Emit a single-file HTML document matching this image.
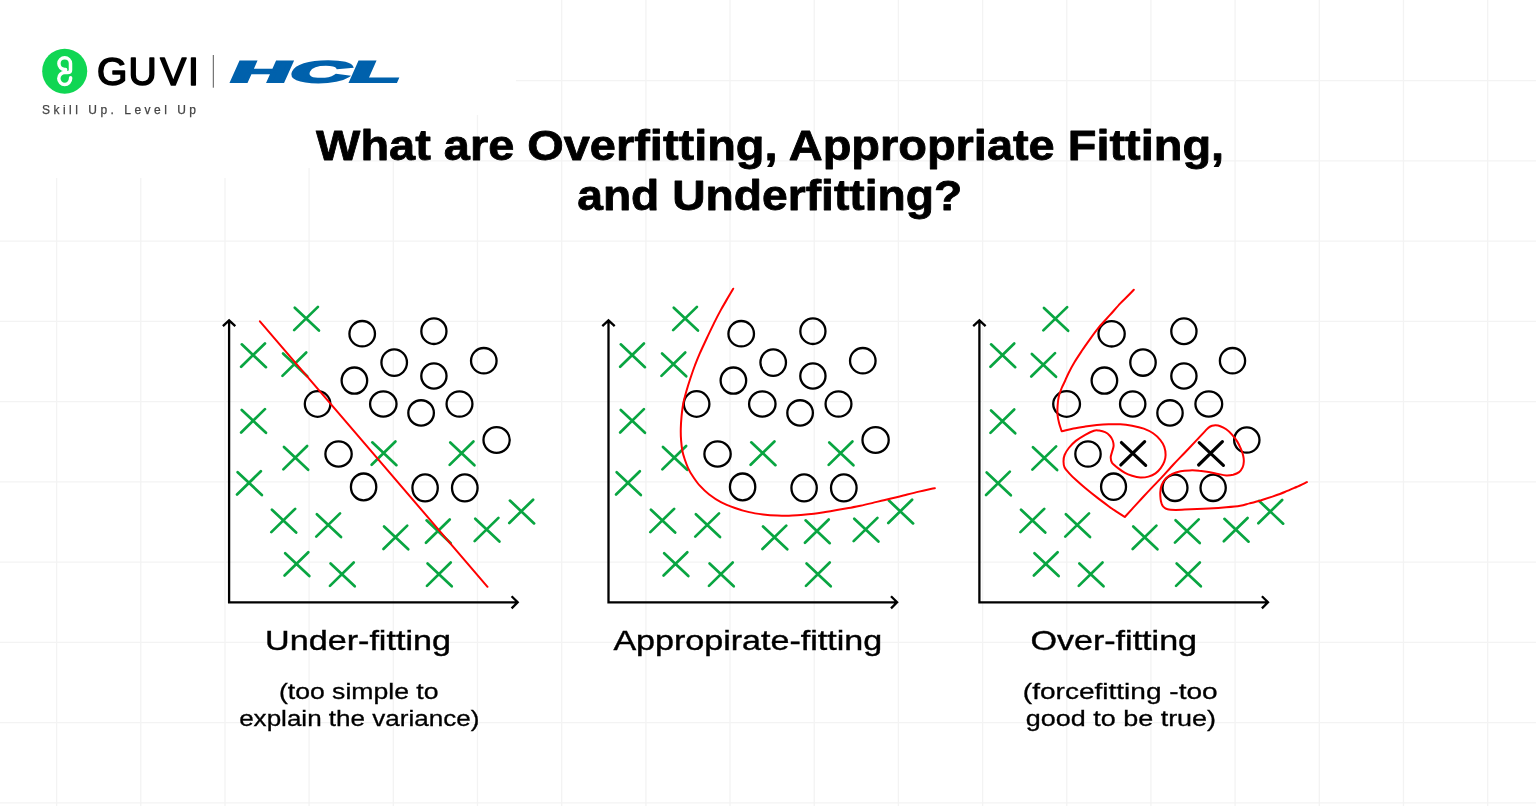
<!DOCTYPE html>
<html lang="en"><head><meta charset="utf-8"><title>What are Overfitting, Appropriate Fitting, and Underfitting?</title>
<style>
html,body{margin:0;padding:0;background:#fff;}
body{width:1536px;height:806px;overflow:hidden;font-family:"Liberation Sans","DejaVu Sans",sans-serif;}
svg{display:block}
.t{font-family:"Liberation Sans",sans-serif;font-weight:bold;font-size:43.3px;fill:#000;stroke:#000;stroke-width:0.8px;stroke-linejoin:round;text-anchor:middle}
.l{font-family:"Liberation Sans",sans-serif;font-size:27.8px;fill:#000;stroke:#000;stroke-width:0.4px;text-anchor:middle}
.s{font-family:"Liberation Sans",sans-serif;font-size:22px;fill:#000;stroke:#000;stroke-width:0.3px;text-anchor:middle}
ellipse{fill:none;stroke:#000;stroke-width:2.3}
.xg{fill:none;stroke:#09a541;stroke-width:2.7;stroke-linecap:round}
.xk{fill:none;stroke:#000;stroke-width:3.2;stroke-linecap:round}
</style></head><body>
<svg width="1536" height="806" viewBox="0 0 1536 806">
<rect width="1536" height="806" fill="#fff"/>
<path d="M56.6 0V806M140.8 0V806M225.0 0V806M309.1 0V806M393.3 0V806M477.5 0V806M561.7 0V806M645.9 0V806M730.0 0V806M814.2 0V806M898.4 0V806M982.6 0V806M1066.8 0V806M1150.9 0V806M1235.1 0V806M1319.3 0V806M1403.5 0V806M1487.7 0V806M0 80.6H1536M0 160.8H1536M0 241.1H1536M0 321.4H1536M0 401.6H1536M0 481.9H1536M0 562.1H1536M0 642.4H1536M0 722.6H1536M0 802.9H1536" stroke="#f3f3f3" stroke-width="1.3" fill="none"/>
<path d="M0 0H516V115H440V158H345V168H300V178H0Z" fill="#fff"/>

<!-- logo -->
<circle cx="64.7" cy="71.2" r="22.5" style="fill:#10d653;stroke:none"/>
<path d="M65.6 69.4L64.7 69.4A5.8 5.8 0 1 1 70.5 63.6L70.5 70Q70.5 72.6 67.5 72.6L64.7 72.6A5.9 5.9 0 1 0 70.6 78.5L70.6 77.8" fill="none" stroke="#fff" stroke-width="3.5" stroke-linecap="round" stroke-linejoin="round"/>
<text x="96.9 128.4 160.2 188.1" y="85.4" font-family="Liberation Sans, sans-serif" font-size="39" fill="#000" stroke="#000" stroke-width="1.6" stroke-linejoin="round">GUVI</text>
<path d="M213.3 55V87.7" stroke="#555" stroke-width="1"/>
<text transform="matrix(2.785 0 -0.447 1 227.5 81.9)" x="0" y="0" font-family="Liberation Sans, sans-serif" font-weight="bold" font-size="29.6" fill="#0061ac" stroke="#0061ac" stroke-width="2.2" stroke-linejoin="miter">HCL</text>
<text x="42" y="113.8" font-family="Liberation Sans, sans-serif" font-size="12" fill="#444" stroke="#444" stroke-width="0.25" textLength="154" lengthAdjust="spacing">Skill Up. Level Up</text>

<!-- title -->
<text class="t" x="770.1" y="160.3" textLength="908" lengthAdjust="spacingAndGlyphs">What are Overfitting, Appropriate Fitting,</text>
<text class="t" x="769.7" y="210.3" textLength="385" lengthAdjust="spacingAndGlyphs">and Underfitting?</text>

<!-- charts -->
<path transform="translate(0,0)" d="M229.1 320.6V602.3H517.5M222.9 326.2L229.1 320.3L235.3 326.2M511.6 596.2L517.7 602.3L511.6 608.4" fill="none" stroke="#000" stroke-width="2.3" stroke-linecap="butt" stroke-linejoin="miter"/>
<path class="xg" d="M294.75 307.75L318.95 330.55M317.95 306.85L294.15 330.15"/>
<path class="xg" d="M241.75 344.35L265.95 367.15M264.95 343.45L241.15 366.75"/>
<path class="xg" d="M283.05 353.45L307.25 376.25M306.25 352.55L282.45 375.85"/>
<path class="xg" d="M241.75 410.05L265.95 432.85M264.95 409.15L241.15 432.45"/>
<path class="xg" d="M283.95 446.95L308.15 469.75M307.15 446.05L283.35 469.35"/>
<path class="xg" d="M372.25 442.35L396.45 465.15M395.45 441.45L371.65 464.75"/>
<path class="xg" d="M450.25 442.45L474.45 465.25M473.45 441.55L449.65 464.85"/>
<path class="xg" d="M237.65 472.15L261.85 494.95M260.85 471.25L237.05 494.55"/>
<path class="xg" d="M271.95 509.75L296.15 532.55M295.15 508.85L271.35 532.15"/>
<path class="xg" d="M316.85 514.25L341.05 537.05M340.05 513.35L316.25 536.65"/>
<path class="xg" d="M384.05 526.55L408.25 549.35M407.25 525.65L383.45 548.95"/>
<path class="xg" d="M426.55 520.35L450.75 543.15M449.75 519.45L425.95 542.75"/>
<path class="xg" d="M475.25 518.75L499.45 541.55M498.45 517.85L474.65 541.15"/>
<path class="xg" d="M509.90 500.60L534.10 523.40M533.10 499.70L509.30 523.00"/>
<path class="xg" d="M285.15 553.15L309.35 575.95M308.35 552.25L284.55 575.55"/>
<path class="xg" d="M330.55 563.45L354.75 586.25M353.75 562.55L329.95 585.85"/>
<path class="xg" d="M427.55 563.45L451.75 586.25M450.75 562.55L426.95 585.85"/>
<ellipse cx="362.20" cy="333.70" rx="12.78" ry="12.72"/>
<ellipse cx="433.90" cy="331.20" rx="12.57" ry="12.82"/>
<ellipse cx="394.20" cy="362.60" rx="12.78" ry="13.22"/>
<ellipse cx="483.80" cy="360.70" rx="12.78" ry="12.72"/>
<ellipse cx="354.40" cy="380.60" rx="12.78" ry="13.12"/>
<ellipse cx="433.90" cy="376.00" rx="12.62" ry="12.62"/>
<ellipse cx="317.60" cy="404.00" rx="12.78" ry="12.78"/>
<ellipse cx="383.30" cy="404.00" rx="13.22" ry="12.57"/>
<ellipse cx="421.10" cy="412.90" rx="12.78" ry="12.67"/>
<ellipse cx="459.50" cy="404.00" rx="12.92" ry="12.67"/>
<ellipse cx="496.60" cy="439.95" rx="13.12" ry="12.88"/>
<ellipse cx="338.55" cy="454.00" rx="13.15" ry="12.62"/>
<ellipse cx="363.60" cy="486.90" rx="12.67" ry="13.42"/>
<ellipse cx="425.10" cy="487.90" rx="12.67" ry="13.47"/>
<ellipse cx="464.80" cy="487.90" rx="12.78" ry="13.47"/>
<path d="M259.9 321.3L487.5 586.8" stroke="#ff0000" stroke-width="2" stroke-linecap="round" fill="none"/>
<path transform="translate(379.4,0)" d="M229.1 320.6V602.3H517.5M222.9 326.2L229.1 320.3L235.3 326.2M511.6 596.2L517.7 602.3L511.6 608.4" fill="none" stroke="#000" stroke-width="2.3" stroke-linecap="butt" stroke-linejoin="miter"/>
<path class="xg" d="M673.75 307.75L697.95 330.55M696.95 306.85L673.15 330.15"/>
<path class="xg" d="M620.75 344.35L644.95 367.15M643.95 343.45L620.15 366.75"/>
<path class="xg" d="M662.05 353.45L686.25 376.25M685.25 352.55L661.45 375.85"/>
<path class="xg" d="M620.75 410.05L644.95 432.85M643.95 409.15L620.15 432.45"/>
<path class="xg" d="M662.95 446.95L687.15 469.75M686.15 446.05L662.35 469.35"/>
<path class="xg" d="M751.25 442.35L775.45 465.15M774.45 441.45L750.65 464.75"/>
<path class="xg" d="M829.25 442.45L853.45 465.25M852.45 441.55L828.65 464.85"/>
<path class="xg" d="M616.65 472.15L640.85 494.95M639.85 471.25L616.05 494.55"/>
<path class="xg" d="M650.95 509.75L675.15 532.55M674.15 508.85L650.35 532.15"/>
<path class="xg" d="M695.85 514.25L720.05 537.05M719.05 513.35L695.25 536.65"/>
<path class="xg" d="M763.05 526.55L787.25 549.35M786.25 525.65L762.45 548.95"/>
<path class="xg" d="M805.55 520.35L829.75 543.15M828.75 519.45L804.95 542.75"/>
<path class="xg" d="M854.25 518.75L878.45 541.55M877.45 517.85L853.65 541.15"/>
<path class="xg" d="M888.90 500.60L913.10 523.40M912.10 499.70L888.30 523.00"/>
<path class="xg" d="M664.15 553.15L688.35 575.95M687.35 552.25L663.55 575.55"/>
<path class="xg" d="M709.55 563.45L733.75 586.25M732.75 562.55L708.95 585.85"/>
<path class="xg" d="M806.55 563.45L830.75 586.25M829.75 562.55L805.95 585.85"/>
<ellipse cx="741.20" cy="333.70" rx="12.78" ry="12.72"/>
<ellipse cx="812.90" cy="331.20" rx="12.57" ry="12.82"/>
<ellipse cx="773.20" cy="362.60" rx="12.78" ry="13.22"/>
<ellipse cx="862.80" cy="360.70" rx="12.78" ry="12.72"/>
<ellipse cx="733.40" cy="380.60" rx="12.78" ry="13.12"/>
<ellipse cx="812.90" cy="376.00" rx="12.62" ry="12.62"/>
<ellipse cx="696.60" cy="404.00" rx="12.78" ry="12.78"/>
<ellipse cx="762.30" cy="404.00" rx="13.22" ry="12.57"/>
<ellipse cx="800.10" cy="412.90" rx="12.78" ry="12.67"/>
<ellipse cx="838.50" cy="404.00" rx="12.92" ry="12.67"/>
<ellipse cx="875.60" cy="439.95" rx="13.12" ry="12.88"/>
<ellipse cx="717.55" cy="454.00" rx="13.15" ry="12.62"/>
<ellipse cx="742.60" cy="486.90" rx="12.67" ry="13.42"/>
<ellipse cx="804.10" cy="487.90" rx="12.67" ry="13.47"/>
<ellipse cx="843.80" cy="487.90" rx="12.78" ry="13.47"/>
<path d="M733.2 288.7 C732.3 290.2 730.0 294.1 728.0 297.6 C726.0 301.1 723.2 305.6 720.9 309.9 C718.5 314.2 716.2 318.7 713.9 323.4 C711.6 328.1 709.2 333.0 706.9 338.0 C704.6 343.0 701.9 348.6 699.9 353.2 C697.9 357.8 696.5 361.4 694.9 365.5 C693.3 369.6 691.9 373.8 690.5 378.0 C689.1 382.2 687.8 386.2 686.6 390.5 C685.4 394.8 684.1 399.1 683.3 403.5 C682.4 407.9 681.9 412.7 681.5 416.9 C681.1 421.1 680.9 424.7 680.8 428.6 C680.7 432.5 680.8 436.6 681.1 440.3 C681.4 444.0 681.8 447.8 682.4 451.0 C683.0 454.2 683.8 456.6 684.8 459.5 C685.8 462.4 686.8 465.3 688.1 468.1 C689.4 470.9 690.8 473.4 692.8 476.3 C694.8 479.2 697.1 482.7 699.8 485.7 C702.5 488.7 705.7 491.8 709.2 494.5 C712.7 497.2 716.6 499.9 720.9 502.1 C725.2 504.4 730.3 506.3 735.0 508.0 C739.7 509.7 744.4 511.0 749.1 512.1 C753.8 513.2 758.4 513.8 763.1 514.4 C767.8 515.0 772.9 515.4 777.2 515.6 C781.5 515.8 785.0 515.9 788.9 515.8 C792.8 515.7 796.7 515.3 800.9 515.0 C805.1 514.7 810.0 514.3 814.0 513.8 C818.0 513.3 821.4 512.7 825.2 512.1 C829.0 511.5 833.0 510.8 836.9 510.1 C840.8 509.4 844.7 508.7 848.6 508.0 C852.5 507.3 856.4 506.5 860.3 505.7 C864.2 504.9 868.1 504.0 872.0 503.1 C875.9 502.2 879.9 501.1 883.8 500.2 C887.7 499.3 891.6 498.4 895.5 497.5 C899.4 496.6 903.3 495.5 907.2 494.5 C911.1 493.5 915.0 492.5 918.9 491.6 C922.8 490.7 927.9 489.6 930.6 489.0 C933.3 488.4 934.2 488.3 934.9 488.2" stroke="#ff0000" stroke-width="2" stroke-linecap="round" fill="none"/>
<path transform="translate(750.3,0)" d="M229.1 320.6V602.3H517.5M222.9 326.2L229.1 320.3L235.3 326.2M511.6 596.2L517.7 602.3L511.6 608.4" fill="none" stroke="#000" stroke-width="2.3" stroke-linecap="butt" stroke-linejoin="miter"/>
<path class="xg" d="M1043.95 308.00L1068.15 330.80M1067.15 307.10L1043.35 330.40"/>
<path class="xg" d="M991.05 344.35L1015.25 367.15M1014.25 343.45L990.45 366.75"/>
<path class="xg" d="M1031.85 354.05L1056.05 376.85M1055.05 353.15L1031.25 376.45"/>
<path class="xg" d="M991.05 410.45L1015.25 433.25M1014.25 409.55L990.45 432.85"/>
<path class="xg" d="M1032.95 447.25L1057.15 470.05M1056.15 446.35L1032.35 469.65"/>
<path class="xk" d="M1121.45 442.55L1145.65 465.35M1144.65 441.65L1120.85 464.95"/>
<path class="xk" d="M1199.20 442.60L1223.40 465.40M1222.40 441.70L1198.60 465.00"/>
<path class="xg" d="M986.65 472.55L1010.85 495.35M1009.85 471.65L986.05 494.95"/>
<path class="xg" d="M1021.05 509.75L1045.25 532.55M1044.25 508.85L1020.45 532.15"/>
<path class="xg" d="M1065.85 514.25L1090.05 537.05M1089.05 513.35L1065.25 536.65"/>
<path class="xg" d="M1133.25 526.55L1157.45 549.35M1156.45 525.65L1132.65 548.95"/>
<path class="xg" d="M1175.55 520.25L1199.75 543.05M1198.75 519.35L1174.95 542.65"/>
<path class="xg" d="M1224.40 518.85L1248.60 541.65M1247.60 517.95L1223.80 541.25"/>
<path class="xg" d="M1258.95 500.85L1283.15 523.65M1282.15 499.95L1258.35 523.25"/>
<path class="xg" d="M1034.45 553.15L1058.65 575.95M1057.65 552.25L1033.85 575.55"/>
<path class="xg" d="M1079.35 563.45L1103.55 586.25M1102.55 562.55L1078.75 585.85"/>
<path class="xg" d="M1176.65 563.45L1200.85 586.25M1199.85 562.55L1176.05 585.85"/>
<ellipse cx="1111.60" cy="333.80" rx="13.12" ry="12.72"/>
<ellipse cx="1183.90" cy="331.30" rx="12.62" ry="12.88"/>
<ellipse cx="1143.00" cy="362.60" rx="12.72" ry="13.17"/>
<ellipse cx="1232.50" cy="360.70" rx="12.62" ry="12.72"/>
<ellipse cx="1104.40" cy="380.60" rx="12.78" ry="13.12"/>
<ellipse cx="1183.90" cy="376.00" rx="12.62" ry="12.62"/>
<ellipse cx="1066.60" cy="404.00" rx="13.38" ry="12.78"/>
<ellipse cx="1132.70" cy="404.00" rx="12.67" ry="12.57"/>
<ellipse cx="1170.00" cy="412.90" rx="12.67" ry="12.67"/>
<ellipse cx="1208.80" cy="404.00" rx="13.38" ry="12.57"/>
<ellipse cx="1246.80" cy="440.05" rx="12.67" ry="12.62"/>
<ellipse cx="1088.00" cy="454.00" rx="12.67" ry="12.72"/>
<ellipse cx="1113.55" cy="486.70" rx="12.47" ry="13.22"/>
<ellipse cx="1175.00" cy="487.80" rx="12.47" ry="13.22"/>
<ellipse cx="1213.15" cy="487.80" rx="12.62" ry="13.22"/>
<path d="M1133.8 289.8 C1132.6 291.1 1128.8 295.0 1126.5 297.3 C1124.2 299.6 1123.1 300.4 1120.3 303.4 C1117.5 306.4 1113.3 311.3 1109.8 315.2 C1106.3 319.1 1102.4 323.0 1099.2 326.9 C1096.0 330.8 1093.2 334.7 1090.4 338.6 C1087.6 342.5 1084.8 346.4 1082.2 350.3 C1079.6 354.2 1076.9 358.2 1074.6 362.0 C1072.3 365.8 1070.1 370.0 1068.5 373.2 C1066.9 376.4 1066.1 378.5 1065.0 381.0 C1063.9 383.5 1062.7 385.4 1061.7 388.0 C1060.7 390.6 1059.5 393.4 1058.8 396.4 C1058.1 399.4 1057.8 402.6 1057.6 405.8 C1057.4 409.0 1057.3 412.6 1057.6 415.5 C1057.9 418.4 1058.5 420.8 1059.2 423.4 C1059.9 426.0 1061.3 430.0 1061.7 431.3 C1063.7 430.9 1069.5 429.4 1073.4 428.6 C1077.3 427.8 1081.3 427.2 1085.2 426.6 C1089.1 426.0 1093.0 425.5 1096.9 425.1 C1100.8 424.7 1104.7 424.4 1108.6 424.3 C1112.5 424.2 1116.4 424.1 1120.3 424.3 C1124.2 424.5 1128.1 425.0 1132.0 425.7 C1135.9 426.4 1140.3 427.3 1143.8 428.6 C1147.3 429.9 1150.4 431.4 1153.1 433.3 C1155.8 435.2 1158.3 437.6 1160.2 439.8 C1162.1 442.1 1163.4 444.3 1164.3 446.8 C1165.2 449.3 1165.6 452.5 1165.6 455.0 C1165.6 457.5 1165.1 459.5 1164.3 461.7 C1163.5 463.9 1162.2 466.2 1160.7 468.1 C1159.2 470.1 1157.5 472.0 1155.5 473.4 C1153.5 474.8 1151.0 475.9 1148.4 476.6 C1145.9 477.3 1142.9 477.6 1140.2 477.5 C1137.5 477.4 1134.5 476.5 1132.0 475.7 C1129.5 474.9 1127.3 474.1 1125.0 472.8 C1122.7 471.5 1120.2 469.8 1118.0 468.1 C1115.8 466.5 1113.3 464.6 1112.1 462.9 C1110.9 461.1 1110.7 459.5 1110.7 457.6 C1110.7 455.7 1111.6 453.6 1112.1 451.7 C1112.6 449.8 1113.5 447.8 1113.6 445.9 C1113.7 444.0 1113.3 442.2 1112.7 440.5 C1112.1 438.8 1111.1 437.1 1109.8 435.7 C1108.5 434.3 1106.9 433.0 1105.1 432.2 C1103.3 431.4 1101.1 430.9 1099.2 430.6 C1097.3 430.4 1096.2 430.0 1093.9 430.7 C1091.6 431.4 1088.2 433.1 1085.2 434.8 C1082.2 436.5 1078.5 438.7 1075.8 440.9 C1073.1 443.1 1070.7 445.6 1068.8 448.0 C1066.9 450.4 1065.5 452.8 1064.6 455.0 C1063.7 457.2 1063.5 459.4 1063.5 461.5 C1063.5 463.6 1063.7 465.6 1064.6 467.5 C1065.5 469.4 1066.9 470.8 1068.8 472.8 C1070.7 474.9 1073.1 477.3 1075.8 479.8 C1078.5 482.3 1081.7 485.1 1085.2 488.0 C1088.7 490.9 1093.0 494.4 1096.9 497.4 C1100.8 500.4 1105.1 503.6 1108.6 506.2 C1112.1 508.8 1115.3 510.9 1118.0 512.7 C1120.7 514.5 1123.7 516.3 1124.8 517.0 C1126.0 515.7 1128.8 512.6 1132.0 509.1 C1135.2 505.7 1139.9 500.5 1143.8 496.3 C1147.7 492.1 1152.5 487.0 1155.5 483.9 C1158.5 480.8 1158.7 480.6 1161.7 477.4 C1164.7 474.2 1169.5 468.7 1173.4 464.5 C1177.3 460.3 1181.3 456.3 1185.2 452.2 C1189.1 448.1 1193.6 443.4 1196.9 439.9 C1200.2 436.4 1203.1 433.2 1205.1 431.1 C1207.0 429.1 1207.4 428.5 1208.6 427.6 C1209.8 426.7 1210.9 426.2 1212.1 425.8 C1213.3 425.4 1214.2 425.1 1215.6 425.2 C1217.0 425.3 1218.5 425.5 1220.3 426.2 C1222.1 426.9 1224.2 427.9 1226.2 429.3 C1228.2 430.7 1230.2 432.6 1232.0 434.6 C1233.8 436.7 1235.8 439.2 1237.3 441.6 C1238.8 444.0 1239.8 446.4 1240.8 448.7 C1241.8 451.0 1242.7 453.5 1243.2 455.7 C1243.7 457.9 1243.9 459.7 1243.8 461.6 C1243.7 463.6 1243.4 465.6 1242.6 467.4 C1241.8 469.1 1240.7 470.9 1239.1 472.1 C1237.5 473.3 1235.3 474.1 1233.2 474.7 C1231.1 475.2 1228.7 475.5 1226.2 475.4 C1223.7 475.3 1220.9 474.5 1218.0 473.9 C1215.1 473.3 1211.7 472.4 1208.6 471.9 C1205.5 471.4 1202.3 470.9 1199.2 470.7 C1196.1 470.4 1192.9 470.3 1189.8 470.4 C1186.7 470.5 1183.4 470.7 1180.5 471.3 C1177.6 471.9 1174.8 472.7 1172.3 473.9 C1169.8 475.1 1167.6 476.8 1165.8 478.6 C1164.0 480.5 1162.6 482.8 1161.7 485.0 C1160.8 487.2 1160.5 489.6 1160.3 492.0 C1160.1 494.4 1160.4 497.2 1160.6 499.1 C1160.8 501.0 1161.1 501.9 1161.5 503.2 C1161.9 504.4 1162.2 505.6 1163.2 506.6 C1164.2 507.6 1165.5 508.8 1167.6 509.3 C1169.7 509.9 1171.9 509.9 1175.8 509.9 C1179.7 509.9 1185.5 509.5 1191.0 509.3 C1196.5 509.1 1202.7 508.8 1208.6 508.5 C1214.5 508.2 1220.9 507.8 1226.2 507.3 C1231.5 506.9 1236.3 506.5 1240.2 505.8 C1244.1 505.1 1246.1 504.3 1249.6 503.4 C1253.1 502.5 1257.4 501.4 1261.3 500.2 C1265.2 499.0 1269.2 497.8 1273.1 496.4 C1277.0 495.0 1280.9 493.6 1284.8 492.0 C1288.7 490.4 1292.8 488.6 1296.5 487.0 C1300.2 485.4 1305.2 482.9 1306.9 482.1" stroke="#ff0000" stroke-width="2" stroke-linecap="round" stroke-linejoin="round" fill="none"/>

<!-- labels -->
<text class="l" x="358.0" y="649.8" textLength="186" lengthAdjust="spacingAndGlyphs">Under-fitting</text>
<text class="s" x="358.7" y="699.4" textLength="159.6" lengthAdjust="spacingAndGlyphs">(too simple to</text>
<text class="s" x="359.25" y="725.8" textLength="240.2" lengthAdjust="spacingAndGlyphs">explain the variance)</text>
<text class="l" x="747.8" y="649.8" textLength="268.8" lengthAdjust="spacingAndGlyphs">Appropirate-fitting</text>
<text class="l" x="1113.75" y="649.8" textLength="166.7" lengthAdjust="spacingAndGlyphs">Over-fitting</text>
<text class="s" x="1120.25" y="699.4" textLength="194.8" lengthAdjust="spacingAndGlyphs">(forcefitting -too</text>
<text class="s" x="1120.95" y="725.8" textLength="190.2" lengthAdjust="spacingAndGlyphs">good to be true)</text>
</svg>
</body></html>
